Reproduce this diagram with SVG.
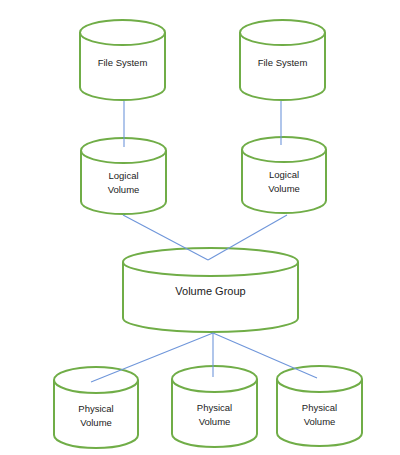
<svg xmlns="http://www.w3.org/2000/svg" width="400" height="455" viewBox="0 0 400 455">
<style>
.cyl{fill:#fff;stroke:#70AD47;stroke-width:2}
.rim{fill:none;stroke:#70AD47;stroke-width:2}
.lbl{font-family:"Liberation Sans",Arial,sans-serif;font-size:9.5px;fill:#222;text-anchor:middle}
.big{font-size:11px}
.con{stroke:#6F96DA;stroke-width:1.1;fill:none}
</style>
<rect width="400" height="455" fill="#fff"/>
<g id="fs1">
<path class="cyl" d="M80,32.5 A42.5,12.5 0 0 1 165,32.5 L165,87.5 A42.5,12.5 0 0 1 80,87.5 Z"/>
<path class="rim" d="M80,32.5 A42.5,12.5 0 0 0 165,32.5"/>
<text class="lbl" x="122.5" y="65.5">File System</text>
</g>
<g id="fs2">
<path class="cyl" d="M240,32.5 A42.5,12.5 0 0 1 325,32.5 L325,87.5 A42.5,12.5 0 0 1 240,87.5 Z"/>
<path class="rim" d="M240,32.5 A42.5,12.5 0 0 0 325,32.5"/>
<text class="lbl" x="282.5" y="65.5">File System</text>
</g>
<g id="lv1">
<path class="cyl" d="M81,150.5 A42.5,12.5 0 0 1 166,150.5 L166,201.5 A42.5,12.5 0 0 1 81,201.5 Z"/>
<path class="rim" d="M81,150.5 A42.5,12.5 0 0 0 166,150.5"/>
<text class="lbl" x="123.5" y="178.5">Logical</text>
<text class="lbl" x="123.5" y="192.5">Volume</text>
</g>
<g id="lv2">
<path class="cyl" d="M242,149.5 A42,12.5 0 0 1 326,149.5 L326,200.5 A42,12.5 0 0 1 242,200.5 Z"/>
<path class="rim" d="M242,149.5 A42,12.5 0 0 0 326,149.5"/>
<text class="lbl" x="284" y="177.5">Logical</text>
<text class="lbl" x="284" y="191.5">Volume</text>
</g>
<g id="vg">
<path class="cyl" d="M123,262 A87.5,14 0 0 1 298,262 L298,318 A87.5,14 0 0 1 123,318 Z"/>
<path class="rim" d="M123,262 A87.5,14 0 0 0 298,262"/>
<text class="lbl big" x="210.5" y="295">Volume Group</text>
</g>
<g id="pv1">
<path class="cyl" d="M54,380 A42,13 0 0 1 138,380 L138,435 A42,13 0 0 1 54,435 Z"/>
<path class="rim" d="M54,380 A42,13 0 0 0 138,380"/>
<text class="lbl" x="96" y="411.5">Physical</text>
<text class="lbl" x="96" y="425.5">Volume</text>
</g>
<g id="pv2">
<path class="cyl" d="M172,379 A42.5,13 0 0 1 257,379 L257,434 A42.5,13 0 0 1 172,434 Z"/>
<path class="rim" d="M172,379 A42.5,13 0 0 0 257,379"/>
<text class="lbl" x="214.5" y="410.5">Physical</text>
<text class="lbl" x="214.5" y="424.5">Volume</text>
</g>
<g id="pv3">
<path class="cyl" d="M277,379 A42.5,13 0 0 1 362,379 L362,433 A42.5,13 0 0 1 277,433 Z"/>
<path class="rim" d="M277,379 A42.5,13 0 0 0 362,379"/>
<text class="lbl" x="319.5" y="410.5">Physical</text>
<text class="lbl" x="319.5" y="424.5">Volume</text>
</g>
<g id="connectors">
<line class="con" x1="124" y1="101" x2="124" y2="147"/>
<line class="con" x1="281" y1="101" x2="281" y2="145"/>
<line class="con" x1="123" y1="215" x2="208" y2="260"/>
<line class="con" x1="287" y1="215" x2="208" y2="260"/>
<line class="con" x1="213" y1="333" x2="91" y2="382"/>
<line class="con" x1="213" y1="333" x2="213" y2="377"/>
<line class="con" x1="213" y1="333" x2="317" y2="378"/>
</g>
</svg>
